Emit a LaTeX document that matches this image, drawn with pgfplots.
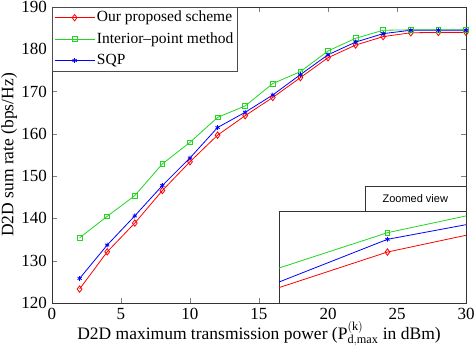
\documentclass[border=0pt]{standalone}
\usepackage{pgfplots}
\pgfplotsset{compat=1.18}
\usepackage{fontspec}
\setmainfont{Liberation Serif}
\newfontfamily\sansf{Liberation Sans}
\definecolor{mgreen}{RGB}{30,215,30}
\begin{document}
\fontsize{15}{18}\selectfont
\begin{tikzpicture}
\begin{axis}[
  name=main,
  scale only axis, width=414pt, height=296pt,
  xmin=0, xmax=30, ymin=120, ymax=190,
  xtick={0,5,...,30}, ytick={120,130,...,190},
  tick align=inside, tick pos=both,
  major tick length=5pt,
  /pgf/number format/assume math mode=true,
  tick label style={font=\fontsize{17}{19}\selectfont},
  label style={font=\fontsize{17.5}{20}\selectfont},
  xlabel={D2D maximum transmission power (P$^{(\mathrm{k})}_{\mathrm{d,max}}$ in dBm)},
  ylabel={D2D sum rate (bps/Hz)},
  xlabel style={at={(axis description cs:0.5,-0.122)}, anchor=base},
  ylabel style={at={(axis description cs:-0.0935,0.5)}, anchor=base},
  axis line style={black!80},
  legend cell align=left,
  legend style={draw=black!70, font=\fontsize{15.5}{17}\selectfont, inner sep=2pt, row sep=4.5pt, at={(0,1)}, anchor=north west},
  legend image code/.code={\draw[mark repeat=2,mark phase=2] plot coordinates {(0pt,0pt)(20pt,0pt)(40pt,0pt)};},
]
\addplot[red, thick, mark=diamond, mark options={scale=1.6, fill=white}] coordinates {
(2,123.3)(4,132.1)(6,138.9)(8,146.6)(10,153.4)(12,159.7)(14,164.3)(16,168.6)(18,173.3)(20,178.0)(22,181.0)(24,183.0)(26,183.9)(28,184.0)(30,184.0)};
\addlegendentry{Our proposed scheme}
\addplot[mgreen, thick, mark=square, mark options={scale=1.2, fill=white}] coordinates {
(2,135.4)(4,140.5)(6,145.4)(8,152.9)(10,158.0)(12,163.9)(14,166.6)(16,171.9)(18,174.7)(20,179.6)(22,182.6)(24,184.5)(26,184.6)(28,184.6)(30,184.6)};
\addlegendentry{Interior--point method}
\addplot[blue, thick, mark=asterisk, mark options={scale=1.2}] coordinates {
(2,125.8)(4,133.7)(6,140.6)(8,147.8)(10,154.3)(12,161.5)(14,165.1)(16,169.2)(18,174.0)(20,178.7)(22,181.7)(24,183.7)(26,184.5)(28,184.5)(30,184.5)};
\addlegendentry{SQP}
\end{axis}
\begin{axis}[
  name=inset,
  at={(main.south east)}, anchor=south east,
  scale only axis, width=187pt, height=92pt,
  xmin=0, xmax=1, ymin=0, ymax=1,
  ticks=none,
  axis background/.style={fill=white},
  axis line style={black!80},
]
\addplot[mgreen, thick, mark=square, mark indices={2}, mark options={scale=1.2, fill=white}] coordinates {(0,0.38)(0.58,0.764)(1,0.946)};
\addplot[blue, thick, mark=asterisk, mark indices={2}, mark options={scale=1.2}] coordinates {(0,0.228)(0.58,0.692)(1,0.851)};
\addplot[red, thick, mark=diamond, mark indices={2}, mark options={scale=1.6, fill=white}] coordinates {(0,0.167)(0.58,0.554)(1,0.736)};
\end{axis}
\node[draw=black!80, fill=white, anchor=south east, minimum width=101pt, minimum height=25pt, inner sep=0pt, font=\sansf\fontsize{11}{13}\selectfont] at (inset.north east) {Zoomed view};
\pgfresetboundingbox
\path ([shift={(-52pt,-48pt)}]main.south west) rectangle ([shift={(8pt,7pt)}]main.north east);
\end{tikzpicture}
\end{document}
